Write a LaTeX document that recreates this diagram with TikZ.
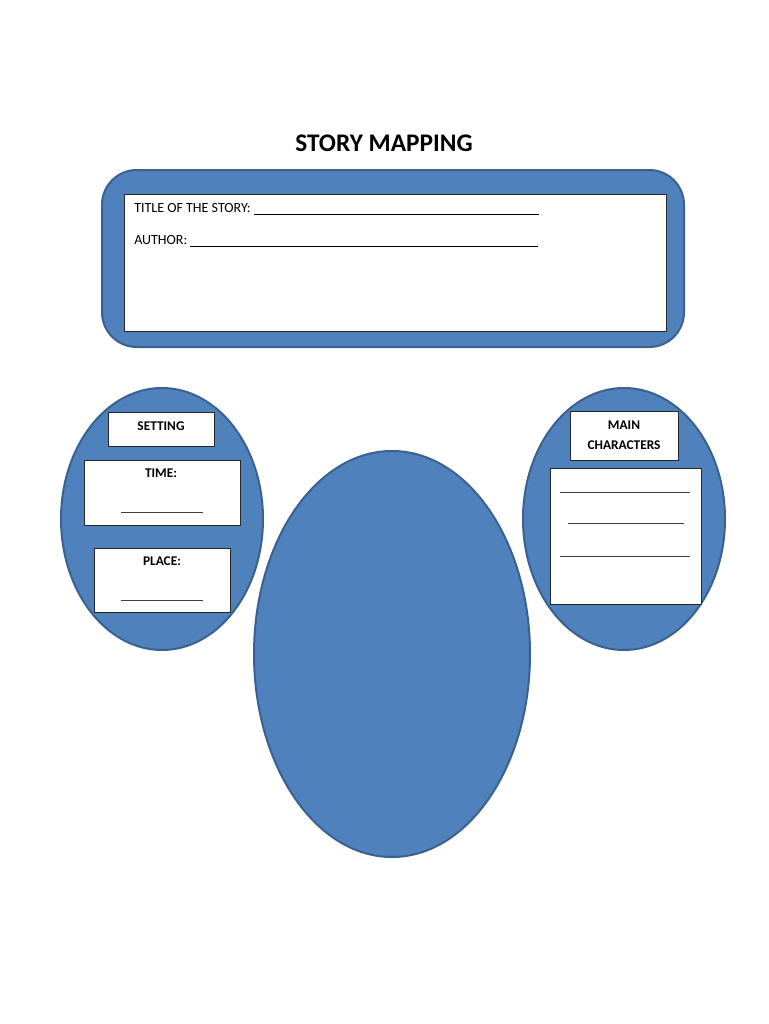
\documentclass[tikz,border=0pt]{standalone}
\usepackage{fontspec}
\setmainfont{Carlito}
\usetikzlibrary{shapes.geometric, positioning}
\definecolor{mapblue}{HTML}{4F81BD}
\definecolor{mapedge}{HTML}{3A6190}

\begin{document}
\begin{tikzpicture}[
		x = 0.75pt, y = -0.75pt,
		font = \fontsize{10}{12}\selectfont,
		blob/.style = {draw = mapedge, line width = 1.5pt, fill = mapblue, ellipse, inner sep = 0pt},
		frame/.style = {draw = mapedge, line width = 1.5pt, fill = mapblue, rounded corners = 26pt, inner sep = 0pt},
		card/.style = {draw = black!85, fill = white, line width = .6pt, inner sep = 0pt},
		blank/.style = {inner sep = 0pt},
		line/.style = {blank, text = black!75}
		]
		\useasboundingbox (0,0) rectangle (768,1024);
		% Title
		\node [blank] (T) at (384,143) {\fontsize{19}{22}\selectfont\bfseries STORY MAPPING};
		
		% Header
		\node [frame, minimum width = 436.5pt, minimum height = 132.75pt] (H) at (393,258.5) {};
		\node [card, minimum width = 406.5pt, minimum height = 102.75pt] (B) at (395,262.5) {};
		\node [blank, anchor = west, font = \fontsize{10.5}{12}\selectfont] (TS) at (134,209) {TITLE OF THE STORY: \rule[-1.2pt]{214pt}{.6pt}};
		\node [blank, anchor = west, font = \fontsize{10.5}{12}\selectfont] (AU) at (134,241) {AUTHOR: \rule[-1.2pt]{261pt}{.6pt}};
		
		% Setting
		\node [blob, minimum width = 151.5pt, minimum height = 196.5pt] (L) at (162,519) {};
		\node [card, minimum width = 79.5pt, minimum height = 25.5pt] (S) at (161,429) {};
		\node [card, minimum width = 117pt, minimum height = 48.75pt] (TI) at (162,492.5) {};
		\node [card, minimum width = 102pt, minimum height = 48pt] (PL) at (162,580) {};
		\node [blank] (s) at (161,426) {\bfseries SETTING};
		\node [blank] (ti) at (161,473) {\bfseries TIME:};
		\node [line] (ti1) at (162,512) {\rule{61.5pt}{.6pt}};
		\node [blank] (pl) at (162,561) {\bfseries PLACE:};
		\node [line] (pl1) at (162,600) {\rule{62pt}{.6pt}};
		
		% Main characters
		\node [blob, minimum width = 151.5pt, minimum height = 196.5pt] (R) at (624,519) {};
		\node [card, minimum width = 81pt, minimum height = 36.75pt] (M) at (624,435.5) {};
		\node [card, minimum width = 113.25pt, minimum height = 102pt] (MC) at (625.5,536) {};
		\node [blank, align = center, font = \fontsize{10}{15}\selectfont] (m) at (624,435) {\bfseries MAIN\\\bfseries CHARACTERS};
		\node [line] (mc1) at (625,492) {\rule{98pt}{.6pt}};
		\node [line] (mc2) at (626,523) {\rule{87pt}{.6pt}};
		\node [line] (mc3) at (625,556) {\rule{97.5pt}{.6pt}};
		
		% Centre
		\node [blob, minimum width = 207pt, minimum height = 304.5pt] (C) at (392,654) {};
	\end{tikzpicture}
\end{document}
